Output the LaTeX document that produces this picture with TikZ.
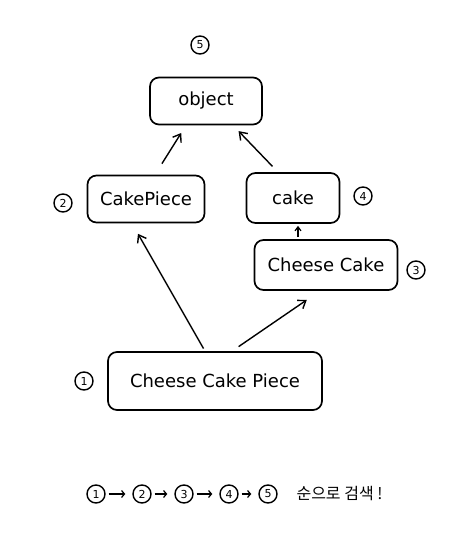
\documentclass[tikz,border=0pt]{standalone}
\usepackage{fontspec}
\setmainfont{DejaVu Sans}
\newfontfamily\kor{Noto Sans CJK KR}
\usetikzlibrary{arrows.meta,positioning}
\tikzset{cls/.style={draw,line width=1.7pt,rounded corners=9pt,inner sep=0pt,font=\fontsize{18}{21}\selectfont},
num/.style={draw,circle,line width=1.4pt,inner sep=0pt,minimum size=18pt,font=\fontsize{11}{12}\selectfont},
inh/.style={-{Straight Barb[length=7pt,width=10pt]},line width=1.4pt}}

\begin{document}
\begin{tikzpicture}[x=1pt,y=-1pt]
\useasboundingbox (0,0) rectangle (474,543);
% classes
\node[cls,minimum width=112pt,minimum height=47pt] (obj) at (206,101){object};
\node[cls,minimum width=117pt,minimum height=47pt] (cp) at (146,199){CakePiece};
\node[cls,minimum width=93pt,minimum height=50pt] (cake) at (293,198){cake};
\node[cls,minimum width=143pt,minimum height=50pt] (cc) at (326,265){Cheese Cake};
\node[cls,minimum width=214pt,minimum height=58pt] (ccp) at (215,381){Cheese Cake Piece};
% search order marks
\node[num] (o5) at (200,45){5};
\node[num] (o2) at (63,203){2};
\node[num] (o4) at (363,196){4};
\node[num] (o3) at (416,270){3};
\node[num] (o1) at (84,381){1};
% inheritance
\draw[inh,shorten <=13pt,shorten >=9pt] ([xshift=9pt]cp.north)--([xshift=-20pt]obj.south);
\draw[inh,shorten <=8pt,shorten >=8pt] ([xshift=-15pt]cake.north)--([xshift=27pt]obj.south);
\draw[-{Straight Barb[length=4pt,width=6pt]},line width=1.2pt,shorten <=2pt,shorten >=2pt] ([xshift=-28pt]cc.north)--([xshift=5pt]cake.south);
\draw[inh,shorten <=3pt,shorten >=12pt] ([xshift=-10pt]ccp.north)--([xshift=-14pt]cp.south);
\draw[inh,shorten <=8pt,shorten >=16pt] ([xshift=17pt]ccp.north)--([xshift=-6pt]cc.south);
% legend
\foreach \i/\x in {1/96,2/142,3/184,4/229,5/268}{\node[num] (s\i) at (\x,494){\i};}
\foreach \a/\b in {1/2,2/3,3/4,4/5}{\draw[-{Straight Barb[length=3pt,width=7pt]},line width=1.2pt,shorten <=3pt,shorten >=7pt] (s\a)--(s\b);}
\node[font=\kor\fontsize{16}{18}\selectfont,anchor=west] (txt) at (293,494){순으로 검색 !};
\end{tikzpicture}
\end{document}
